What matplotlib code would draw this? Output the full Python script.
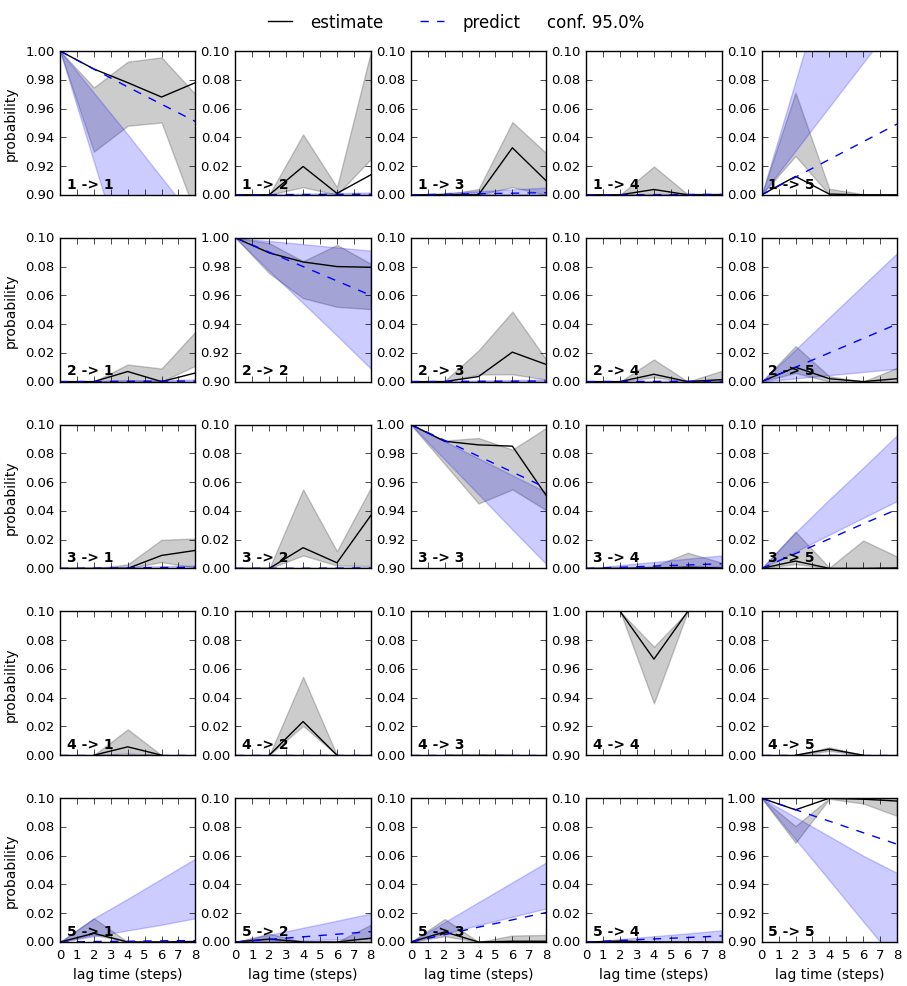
import numpy as np
import matplotlib
matplotlib.use('Agg')
import matplotlib.pyplot as plt
from matplotlib.lines import Line2D
from matplotlib.ticker import MultipleLocator, FormatStrFormatter

plt.style.use('classic')
plt.rcParams['font.family'] = ['DejaVu Sans']

nan = np.nan
lags = [0, 2, 4, 6, 8]
states = [1, 2, 3, 4, 5]
conf_level = 95.0

# values indexed [from][to], one list per lag
est_mean = [
    [[1.0, 0.9875, 0.978, 0.968, 0.978], [0, 0, 0.0197, 0.001, 0.0139], [0, 0, 0, 0.0327, 0.0097],
     [0, 0, 0.0037, 0, 0], [0, 0.0128, 0.0005, 0, 0]],
    [[0, 0, 0.007, 0, 0.006], [1.0, 0.9895, 0.9832, 0.980, 0.9795], [0, 0, 0.0035, 0.0205, 0.0119],
     [0, 0, 0.0051, 0, 0.0014], [0, 0.010, 0.002, 0, 0.002]],
    [[0, 0, 0, 0.009, 0.0125], [0, 0, 0.0144, 0.0039, 0.0368], [1.0, 0.9884, 0.9859, 0.985, 0.9507],
     [0, 0, 0.0003, 0.0008, 0.0003], [0, 0.0051, 0, 0, 0.0003]],
    [[nan, 0, 0.0058, 0, nan], [nan, 0, 0.0234, 0, nan], [nan, 0, 0, 0, nan],
     [nan, 1.0, 0.9668, 1.0, nan], [nan, 0, 0.0042, 0, nan]],
    [[0, 0.006, 0, 0, 0.0003], [0, 0.002, 0, 0, 0.0026], [0, 0.007, 0, 0.0005, 0.0005],
     [0, 0.0005, 0, 0, 0], [1.0, 0.9919, 1.0, 0.9993, 0.998]],
]
est_lo = [
    [[1.0, 0.930, 0.948, 0.9503, 0.887], [0, 0, 0.0053, 0, 0.0248], [0, 0, 0, 0.0053, 0],
     [0, 0, 0, 0, 0], [0, 0.027, 0, 0, 0]],
    [[0, 0, 0.001, 0, 0.011], [1.0, 0.9753, 0.958, 0.952, 0.9504], [0, 0, 0.005, 0.0051, 0.0014],
     [0, 0, 0.003, 0, 0], [0, 0.006, 0, 0, 0]],
    [[0, 0, 0, 0.0044, 0.0005], [0, 0, 0.009, 0.002, 0.0016], [1.0, 0.9726, 0.9451, 0.9549, 0.9405],
     [0, 0, 0, 0, 0], [0, 0.003, 0, 0, 0]],
    [[nan, 0, 0.0012, 0, nan], [nan, 0, 0.0204, 0, nan], [nan, 0, 0, 0, nan],
     [nan, 1.0, 0.936, 1.0, nan], [nan, 0, 0.003, 0, nan]],
    [[0, 0.005, 0, 0, 0], [0, 0.001, 0, 0, 0.0008], [0, 0.004, 0, 0, 0],
     [0, 0, 0, 0, 0], [1.0, 0.969, 0.9995, 0.9963, 0.9877]],
]
est_hi = [
    [[1.0, 0.9747, 0.9926, 0.9956, 0.970], [0, 0.0003, 0.042, 0.0053, 0.0993], [0, 0.0003, 0.004, 0.0506, 0.029],
     [0, 0, 0.0197, 0.0003, 0], [0, 0.071, 0.0042, 0.0005, 0]],
    [[0, 0, 0.0119, 0.0091, 0.0347], [1.0, 0.9963, 0.9837, 0.9951, 0.982], [0, 0.0005, 0.0217, 0.0487, 0.0154],
     [0, 0, 0.0154, 0, 0.0075], [0, 0.0247, 0.0037, 0, 0.0096]],
    [[0, 0, 0.0028, 0.0199, 0.0208], [0, 0, 0.0549, 0.012, 0.056], [1.0, 0.9889, 0.9907, 0.9826, 0.9977],
     [0, 0.0003, 0.0015, 0.0109, 0.004], [0, 0.0255, 0.0005, 0.0194, 0.0083]],
    [[nan, 0, 0.018, 0, nan], [nan, 0, 0.0545, 0, nan], [nan, 0, 0, 0, nan],
     [nan, 1.0, 0.9754, 1.0, nan], [nan, 0, 0.0055, 0, nan]],
    [[0, 0.0165, 0, 0.0005, 0.001], [0, 0.0058, 0, 0, 0.012], [0, 0.016, 0, 0.0045, 0.0049],
     [0, 0.0015, 0, 0, 0], [1.0, 0.9806, 1.0, 1.0, 1.0]],
]

pred_mean = [
    [[1.0, 0.9874, 0.975, 0.963, 0.951], [0, 0.0001, 0.0002, 0.0003, 0.0004], [0, 0.0004, 0.0008, 0.0011, 0.0015],
     [0, 0.0001, 0.0001, 0.0002, 0.0003], [0, 0.0123, 0.0246, 0.0369, 0.0492]],
    [[0, 0.0001, 0.0002, 0.0003, 0.0004], [1.0, 0.99, 0.98, 0.97, 0.96], [0, 0.0001, 0.0002, 0.0003, 0.0004],
     [0, 0.0001, 0.0001, 0.0002, 0.0003], [0, 0.010, 0.020, 0.030, 0.040]],
    [[0, 0.0002, 0.0004, 0.0006, 0.0008], [0, 0.0001, 0.0001, 0.0002, 0.0003], [1.0, 0.989, 0.978, 0.967, 0.956],
     [0, 0.0008, 0.0016, 0.0024, 0.0032], [0, 0.0103, 0.0205, 0.031, 0.041]],
    [[0, 0, 0, 0, 0], [0, 0, 0, 0, 0], [0, 0, 0, 0, 0],
     [nan, nan, nan, nan, nan], [0, 0, 0, 0, 0]],
    [[0, 0.0003, 0.0005, 0.0008, 0.001], [0, 0.0018, 0.0036, 0.0054, 0.0072], [0, 0.0051, 0.0103, 0.0154, 0.0205],
     [0, 0.00105, 0.0021, 0.0031, 0.0042], [1.0, 0.992, 0.984, 0.976, 0.968]],
]
pred_lo = [
    [[1.0, 0.923, 0.846, 0.77, 0.69], [0, 0, 0, 0, 0], [0, 0.0001, 0.0002, 0.0003, 0.0004],
     [0, 0, 0, 0, 0], [0, 0.0306, 0.0612, 0.0918, 0.122]],
    [[0, 0, 0, 0, 0], [1.0, 0.977, 0.9545, 0.932, 0.909], [0, 0, 0, 0, 0],
     [0, 0, 0, 0, 0], [0, 0.0022, 0.0045, 0.0067, 0.0089]],
    [[0, 0, 0, 0, 0], [0, 0, 0, 0, 0], [1.0, 0.9757, 0.9515, 0.927, 0.903],
     [0, 0.0004, 0.0008, 0.0012, 0.0016], [0, 0.0117, 0.0234, 0.0351, 0.0468]],
    [[0, 0, 0, 0, 0], [0, 0, 0, 0, 0], [0, 0, 0, 0, 0],
     [nan, nan, nan, nan, nan], [0, 0, 0, 0, 0]],
    [[0, 0.004, 0.008, 0.012, 0.0165], [0, 0.0006, 0.0012, 0.0018, 0.0023], [0, 0.0058, 0.0117, 0.0175, 0.0233],
     [0, 0.0002, 0.0004, 0.0005, 0.0007], [1.0, 0.9714, 0.9429, 0.9143, 0.886]],
]
pred_hi = [
    [[1.0, 0.971, 0.942, 0.912, 0.882], [0, 0.0004, 0.0008, 0.0012, 0.0016], [0, 0.0013, 0.0025, 0.0038, 0.005],
     [0, 0.0003, 0.0005, 0.0008, 0.001], [0, 0.079, 0.158, 0.237, 0.316]],
    [[0, 0.0004, 0.0008, 0.0011, 0.0015], [1.0, 0.9978, 0.9956, 0.9933, 0.9911], [0, 0.0004, 0.0008, 0.0011, 0.0015],
     [0, 0.0003, 0.0005, 0.0008, 0.001], [0, 0.0223, 0.0447, 0.067, 0.0893]],
    [[0, 0.0005, 0.001, 0.0015, 0.002], [0, 0.0002, 0.0004, 0.0006, 0.0008], [1.0, 0.9883, 0.9765, 0.9648, 0.953],
     [0, 0.0023, 0.0045, 0.0068, 0.009], [0, 0.025, 0.048, 0.070, 0.0926]],
    [[0, 0, 0, 0, 0], [0, 0, 0, 0, 0], [0, 0, 0, 0, 0],
     [nan, nan, nan, nan, nan], [0, 0, 0, 0, 0]],
    [[0, 0.0165, 0.030, 0.044, 0.058], [0, 0.005, 0.0099, 0.0148, 0.0198], [0, 0.0138, 0.0277, 0.0415, 0.0553],
     [0, 0.002, 0.004, 0.006, 0.0081], [1.0, 0.9868, 0.9735, 0.960, 0.948]],
]

fig, axes = plt.subplots(5, 5, figsize=(9.07, 9.87), dpi=100, sharex=True)
fig.patch.set_facecolor('white')
fig.subplots_adjust(left=0.0662, right=0.989, top=0.9473, bottom=0.0446,
                    wspace=0.296, hspace=0.299)

n = len(states)
for i in range(n):
    for j in range(n):
        ax = axes[i, j]
        ax.plot(lags, est_mean[i][j], color='black', lw=1)
        ax.fill_between(lags, est_lo[i][j], est_hi[i][j], color='black', alpha=0.2)
        ax.plot(lags, pred_mean[i][j], color='blue', ls='--', lw=1)
        ax.fill_between(lags, pred_lo[i][j], pred_hi[i][j], color='blue', alpha=0.2)
        ax.text(0.05, 0.05, f'{states[i]} -> {states[j]}', transform=ax.transAxes,
                weight='bold', fontsize=10)
        if i == j:
            ax.set_ylim(0.9, 1.0)
        else:
            ax.set_ylim(0.0, 0.1)
        ax.set_xlim(0, 8)
        ax.xaxis.set_major_locator(MultipleLocator(1))
        ax.yaxis.set_major_locator(MultipleLocator(0.02))
        ax.yaxis.set_major_formatter(FormatStrFormatter('%.2f'))
        ax.tick_params(labelsize=9.5)
        if j == 0:
            ax.set_ylabel('probability', fontsize=10)
        if i == n - 1:
            ax.set_xlabel('lag time (steps)', fontsize=10)

handles = [Line2D([], [], color='black', lw=1), Line2D([], [], color='blue', ls='--', lw=1)]
fig.legend(handles, ['estimate', 'predict'], loc='center left', bbox_to_anchor=(0.2734, 0.9767),
           ncol=2, frameon=False, fontsize=12, handlelength=2.04, handletextpad=0.78,
           columnspacing=1.92)
fig.text(0.603, 0.9767, f'conf. {conf_level:.1f}%', va='center', ha='left', fontsize=12)

fig.savefig('out.png', dpi=100, facecolor='white')
